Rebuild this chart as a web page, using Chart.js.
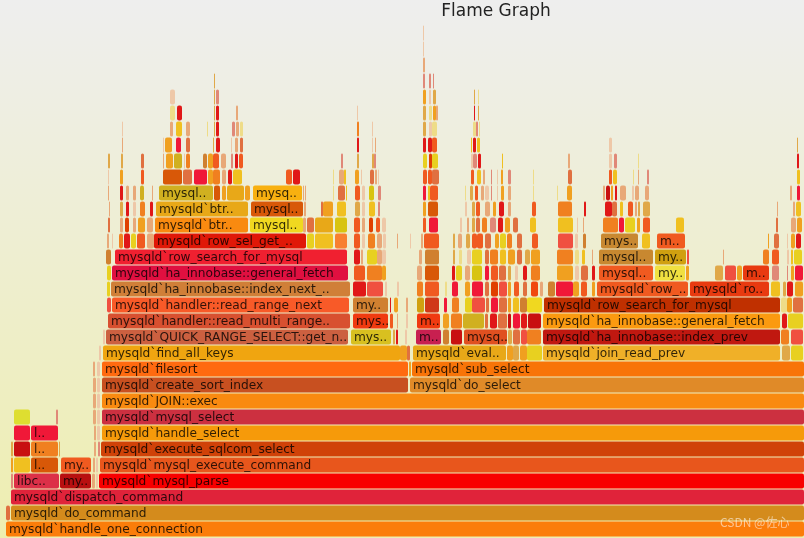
<!DOCTYPE html>
<html>
<head>
<meta charset="utf-8">
<script src="https://cdn.jsdelivr.net/npm/chart.js@4/dist/chart.umd.js"></script>
<style>
  html, body { margin: 0; padding: 0; }
  body { width: 804px; height: 538px; overflow: hidden; background: linear-gradient(#eeeeee, #eeeeb0); }
  canvas { display: block; filter: blur(0.35px); }
</style>
</head>
<body>
<canvas id="flame" width="804" height="538"></canvas>
<script>
const level0 = [[6,804,'mysqld`handle_one_connection']];
const level1 = [[6,10],[11,804,'mysqld`do_command']];
const level2 = [[11,804,'mysqld`dispatch_command']];
const level3 = [[11,13],[14,59,'libc..'],[60,91,'my..'],[92,95],[96,98],[99,804,'mysqld`mysql_parse']];
const level4 = [[11,13],[14,30],[31,58,'l..'],[61,91,'my..'],[93,95],[96,98],[100,804,'mysqld`mysql_execute_command']];
const level5 = [[11,13],[14,30],[31,58,'l..'],[59,60],[94,96],[98,100],[101,804,'mysqld`execute_sqlcom_select']];
const level6 = [[14,30],[31,58,'l..'],[94,96],[97,100],[102,804,'mysqld`handle_select']];
const level7 = [[14,30],[56,58],[93,96],[97,100],[102,804,'mysqld`mysql_select']];
const level8 = [[93,96],[97,100],[102,804,'mysqld`JOIN::exec']];
const level9 = [[93,96],[97,100],[102,408,'mysqld`create_sort_index'],[410,804,'mysqld`do_select']];
const level10 = [[93,95],[97,100],[102,408,'mysqld`filesort'],[409,411],[412,804,'mysqld`sub_select']];
const level11 = [[99,101],[103,400,'mysqld`find_all_keys'],[400,407],[407,410],[413,506,'mysqld`eval..'],[507,513],[513,519],[520,527],[527,542],[543,780,'mysqld`join_read_prev'],[782,790],[791,803]];
const level12 = [[103,105],[106,348,'mysqld`QUICK_RANGE_SELECT::get_n..'],[351,391,'mys..'],[393,395],[396,398],[405,407],[416,441,'m..'],[443,449],[451,462],[464,507,'mysq..'],[508,512],[513,520],[521,527],[527,541],[543,780,'mysqld`ha_innobase::index_prev'],[781,789],[791,803]];
const level13 = [[108,350,'mysqld`handler::read_multi_range..'],[353,388,'mys..'],[390,393],[397,398],[406,408],[417,440,'m..'],[443,449],[451,462],[463,484],[485,488],[490,497],[498,507],[508,511],[513,520],[521,527],[528,541],[543,780,'mysqld`ha_innobase::general_fetch'],[782,787],[788,803]];
const level14 = [[107,111],[112,349,'mysqld`handler::read_range_next'],[353,388,'my..'],[390,391],[394,398],[406,408],[417,424],[425,439],[444,447],[452,459],[465,472],[472,485],[486,489],[491,498],[499,507],[508,511],[513,519],[520,527],[527,542],[544,780,'mysqld`row_search_for_mysql'],[781,787],[787,792],[793,803]];
const level15 = [[107,110],[111,350,'mysqld`ha_innobase::index_next_..'],[353,366],[367,383],[385,387],[397,399],[417,423],[425,439],[445,447],[452,458],[465,470],[472,483],[485,489],[491,498],[499,507],[508,511],[514,519],[523,527],[531,538],[540,543],[548,555],[556,573],[573,579],[581,587],[592,595],[597,688,'mysqld`row_..'],[690,769,'mysqld`ro..'],[771,780],[783,786],[787,793],[795,803]];
const level16 = [[107,111],[112,348,'mysqld`ha_innobase::general_fetch'],[354,365],[367,382],[382,386],[417,422],[425,439],[452,455],[456,462],[465,470],[472,482],[485,489],[491,498],[499,506],[508,511],[515,518],[523,527],[531,540],[557,573],[575,579],[581,588],[592,595],[599,653,'mysql..'],[655,685,'my..'],[686,689],[715,723],[725,736],[737,742],[743,769,'m..'],[772,779],[787,788],[791,794],[795,803]];
const level17 = [[106,111],[115,347,'mysqld`row_search_for_mysql'],[354,360],[361,363],[367,377],[377,382],[382,386],[419,422],[425,439],[453,455],[459,462],[467,471],[472,482],[485,489],[490,498],[500,506],[508,515],[517,522],[525,530],[531,540],[557,573],[575,579],[582,585],[592,593],[599,653,'mysql..'],[655,686,'my..'],[687,689],[723,724],[763,769],[772,779],[787,789],[791,793],[794,802]];
const level18 = [[107,109],[112,113],[119,123],[124,130],[131,136],[137,145],[147,154],[154,306,'mysqld`row_sel_get_..'],[307,314],[315,333],[335,347],[354,360],[362,365],[368,375],[377,382],[383,386],[397,398],[410,411],[421,423],[424,439],[453,455],[458,462],[466,470],[472,477],[477,483],[485,491],[495,499],[500,506],[507,512],[517,522],[532,538],[558,573],[575,578],[583,586],[601,638,'mys..'],[642,650],[657,685,'m..'],[768,769],[774,779],[787,788],[791,795],[796,801]];
const level19 = [[108,110],[120,123],[125,129],[133,136],[138,145],[147,153],[155,248,'mysqld`btr..'],[250,303,'mysql..'],[303,306],[307,314],[315,333],[335,347],[354,360],[362,365],[369,373],[376,380],[382,386],[423,426],[429,438],[460,462],[467,469],[472,475],[476,480],[482,487],[490,496],[498,503],[505,510],[513,518],[530,536],[558,573],[577,578],[583,584],[603,618],[619,624],[625,635],[637,640],[643,650],[676,684],[776,778],[791,796],[797,802]];
const level20 = [[109,110],[120,123],[126,129],[133,136],[140,145],[150,153],[156,248,'mysqld`btr..'],[251,303,'mysql..'],[304,306],[321,323],[323,333],[337,346],[355,360],[362,365],[369,375],[378,380],[423,426],[428,438],[465,467],[472,475],[476,480],[485,490],[493,496],[499,504],[508,511],[532,536],[558,572],[584,586],[605,612],[612,617],[620,623],[628,633],[635,637],[638,640],[643,650],[777,778],[793,795],[796,801]];
const level21 = [[108,109],[120,123],[126,129],[133,136],[140,144],[152,153],[159,213,'mysql..'],[214,220],[222,226],[227,244],[245,250],[253,302,'mysq..'],[303,304],[305,306],[333,334],[338,345],[346,347],[355,360],[362,365],[369,374],[378,381],[423,426],[428,430],[430,438],[465,466],[470,473],[475,478],[481,484],[485,489],[491,492],[497,498],[501,504],[508,511],[533,534],[557,558],[567,572],[603,605],[606,610],[611,613],[615,617],[620,626],[632,634],[635,639],[645,649],[790,792],[797,800]];
const level22 = [[108,109],[120,123],[141,144],[163,182],[183,192],[194,207],[208,213],[213,220],[222,226],[228,232],[233,242],[286,292],[293,300],[333,334],[339,344],[344,346],[355,359],[361,362],[370,374],[375,377],[378,379],[423,427],[428,432],[432,439],[471,474],[477,481],[483,485],[491,492],[497,498],[501,503],[508,511],[533,534],[568,572],[609,612],[613,617],[633,634],[638,639],[647,649],[797,800]];
const level23 = [[108,110],[121,123],[141,144],[163,164],[166,173],[174,182],[184,185],[186,190],[203,207],[208,213],[213,219],[221,226],[231,233],[235,238],[239,243],[341,343],[357,359],[372,374],[374,376],[423,427],[429,432],[432,438],[471,473],[473,477],[478,481],[502,503],[568,570],[609,612],[614,617],[638,639],[797,799]];
const level24 = [[122,123],[163,164],[165,172],[176,181],[186,190],[213,214],[216,220],[231,232],[235,238],[240,243],[357,359],[372,373],[375,376],[423,426],[428,432],[432,437],[471,472],[473,476],[477,480],[609,612],[797,798]];
const level25 = [[122,123],[170,173],[176,182],[186,190],[207,208],[214,215],[216,219],[232,235],[236,239],[240,243],[357,359],[372,373],[423,426],[429,432],[432,437],[473,476],[476,478],[479,480]];
const level26 = [[170,175],[177,182],[214,215],[216,219],[236,238],[357,358],[423,426],[429,432],[433,436],[436,438],[474,475],[478,479]];
const level27 = [[170,175],[214,215],[216,219],[423,426],[429,431],[433,436],[474,475],[478,479]];
const level28 = [[214,215],[423,425],[429,431],[433,434]];
const level29 = [[423,425]];
const level30 = [[423,424]];
const level31 = [[423,424]];

const levels = [level0, level1, level2, level3, level4, level5, level6, level7, level8, level9, level10,
  level11, level12, level13, level14, level15, level16, level17, level18, level19, level20, level21,
  level22, level23, level24, level25, level26, level27, level28, level29, level30, level31];

// one palette key per span of the level above
const tints = [
  '0', 'T1', '2', 'ruvqp3', 'AyWOqp4', 'mDomqr5', 'CCqp6', 'zrqp7', 'qp8', 'qp9a', 'qpbAc',
  'pdATEAmAYemY',
  'pfGmRpHBDImTSogoS',
  'hJOqpJAoKTRTDCRDiRY',
  'SjBRAqLMCoYSTCTAyBNklAT',
  'YnRSppoOlCACTPSAOTQqBCAOAOUymRA',
  'YVOoAqWRYqXCOTmpRoApTROZAmSAUrrAC',
  'BsRqYqpqBmlpYToyATmAolyqtLSqoOpyY',
  'qpoRYOqwYyxOpoqpqpqOmqmOOTAYoTOSpBtyOATpAR',
  'TqPqAq8NqTEXOqPOpOCpqmTorRATyypqoCYAOyTqA',
  'qmRpoREWqTAympyrAWpmOqARqOoRRTyOqmmqqy',
  'qRqqKqKWAEAFqqlTyOpXrCyOlmOqprpAqllAqDARqpqqqC',
  'pAOWTCAoqRyORlqyApTqpOOTOyqrpArlTOylqry',
  'mmTqAKpoBAOqrROrmmrYPYprRyqprlR',
  'qpACTmRpqTRpqRROyRypm',
  'pqyqlmRrqlopmpllrl',
  'lRmRqpmlAqRm',
  'pmrApmml',
  'mrrr', 'q', 'p', 'p'
];

const paletteKeys = '0123456789abcdefghijkn' + 'stuvwxz' + 'EFGHIJKLMNPQUVWXZ' + 'RDCOoABYyTSpqrlm';
const paletteColors = [
  '#fb7d0a', '#d48b1c', '#e0233a', '#f80000', '#e8561c', '#d04208', '#f69a0a', '#cc3040', '#f98a10', '#c85020',
  '#e08a28', '#ff6a10', '#f87408', '#f0a510', '#f0b028', '#cc6040', '#c01810', '#d85030', '#fb9a10', '#f85a28', '#c03000', '#d07f38',
  '#f02030', '#c88830', '#dc3048', '#b81010', '#e01808', '#f88030', '#dede30',
  '#e8a818', '#f8b010', '#d8c020', '#c82050', '#e05020', '#f03a10', '#d0b020', '#d0a010', '#d03818', '#f0d820', '#e04000', '#f04810', '#e83a10', '#e01040', '#d85808', '#d8c410', '#f0e040',
  '#e01818', '#c81010', '#f01838', '#f05a20', '#f08020', '#f0a020', '#d08030', '#e8d020', '#f0c020', '#e07040', '#f05040', '#eec8a8', '#e8a878', '#e08878', '#eedc88', '#e0a848'
];

const chartTitle = 'Flame Graph';
const watermark = 'CSDN @佐心';

const points = [];
const colors = [];
levels.forEach((spans, depth) => {
  spans.forEach(([start, end, name], i) => {
    points.push({ x: [start, end], y: depth, name });
    colors.push(paletteColors[paletteKeys.indexOf(tints[depth][i])]);
  });
});

// names inside the frames, plus the title and the watermark
const frameText = {
  id: 'frameText',
  afterDatasetsDraw(chart) {
    const { ctx, scales: { x, y } } = chart;
    ctx.save();
    ctx.textBaseline = 'middle';
    ctx.textAlign = 'left';
    ctx.font = '12.2px "DejaVu Sans"';
    ctx.fillStyle = 'rgba(0,0,0,0.8)';
    points.forEach((p) => {
      if (p.name) ctx.fillText(p.name, x.getPixelForValue(p.x[0]) + 3, y.getPixelForValue(p.y) + 1);
    });
    ctx.font = '17px "DejaVu Sans"';
    ctx.textAlign = 'center';
    ctx.fillStyle = '#222';
    ctx.fillText(chartTitle, 496, 12);
    ctx.font = '12px "Noto Sans CJK SC"';
    ctx.textAlign = 'left';
    ctx.fillStyle = 'rgba(255,255,255,0.55)';
    ctx.fillText(watermark, 720, 522);
    ctx.restore();
  }
};

new Chart(document.getElementById('flame'), {
  type: 'bar',
  data: {
    datasets: [{
      data: points,
      backgroundColor: colors,
      barThickness: 15,
      borderRadius: 2,
      borderSkipped: false,
      inflateAmount: 0
    }]
  },
  options: {
    indexAxis: 'y',
    responsive: false,
    animation: false,
    layout: { padding: 0 },
    plugins: { legend: { display: false }, tooltip: { enabled: false }, title: { display: false } },
    scales: {
      x: { type: 'linear', min: 0, max: 804, display: false },
      y: { type: 'linear', min: -0.5625, max: 33.0625, display: false, offset: false }
    }
  },
  plugins: [frameText]
});
</script>
</body>
</html>
